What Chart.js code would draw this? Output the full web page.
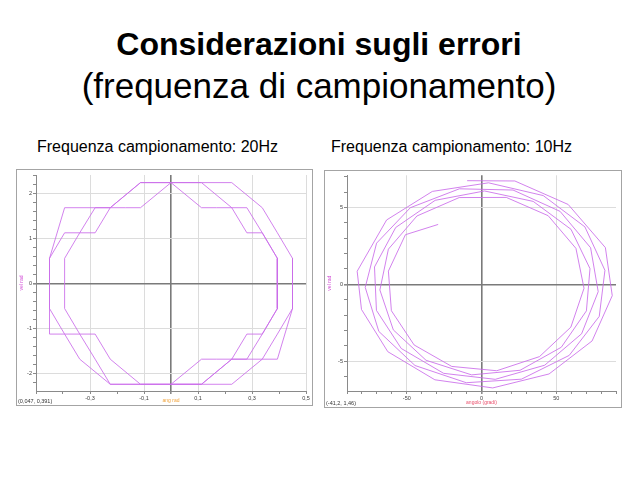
<!DOCTYPE html>
<html lang="it">
<head>
<meta charset="utf-8">
<title>Considerazioni sugli errori</title>
<script src="https://cdn.jsdelivr.net/npm/chart.js@4.4.1/dist/chart.umd.min.js"></script>
<style>
    body { margin: 0; background: #fff; }
    #page { position: relative; width: 638px; height: 478px; overflow: hidden; font-family: 'Liberation Sans', Arial, sans-serif; color: #000; }
    .txt { position: absolute; white-space: nowrap; }
    #title1 { left: 0; width: 638px; text-align: center; top: 28px; font-size: 32px; line-height: 32px; font-weight: bold; }
    #title2 { left: 0; width: 638px; text-align: center; top: 68px; font-size: 35px; line-height: 35px; }
    .sub { top: 139px; font-size: 16px; line-height: 16px; }
    .frame { position: absolute; border: 1px solid #a4a4a4; background: #fff; }
    .frame canvas { display: block; }
</style>
</head>
<body>
<div id="page">
    <div id="title1" class="txt">Considerazioni sugli errori</div>
    <div id="title2" class="txt">(frequenza di campionamento)</div>
    <div class="txt sub" style="left:37px">Frequenza campionamento: 20Hz</div>
    <div class="txt sub" style="left:331px">Frequenza campionamento: 10Hz</div>
    <div class="frame" style="left:16px; top:169px;"><canvas id="chart20" width="295" height="235"></canvas></div>
    <div class="frame" style="left:324px; top:170px;"><canvas id="chart10" width="296" height="236"></canvas></div>
</div>

<script>
// 20Hz sampling: angle (rad) and angular velocity (rad/s)
const angle20 = [
    0.45, 0.45, 0.394, 0.281, 0.225, 0.113, 0,
    -0.113, -0.225, -0.281, -0.338, -0.394, -0.45, -0.45, -0.45,
    -0.45, -0.394, -0.338, -0.281, -0.225, -0.113, 0,
    0.113, 0.225, 0.338, 0.394, 0.45, 0.45,
    0.45, 0.394, 0.338, 0.225, 0.113, 0,
    -0.113, -0.225, -0.338, -0.394, -0.45, -0.45,
    -0.45, -0.394, -0.281, -0.225, -0.113, 0,
    0.113, 0.169, 0.281, 0.338, 0.394, 0.394,
    0.394, 0.338, 0.281, 0.225, 0.113, 0,
    -0.113, -0.225, -0.281, -0.338, -0.394, -0.394,
    -0.394, -0.338, -0.281, -0.169, -0.113, 0,
    0.113, 0.225, 0.281, 0.338, 0.394, 0.394,
    0.394, 0.338, 0.281, 0.169, 0.113, 0
];
const velocity20 = [
    0, -0.56, -1.69, -1.69, -1.69, -2.25, -2.25,
    -2.25, -1.69, -1.13, -1.13, -1.13, -1.13, -0.56, 0,
    0.56, 1.13, 1.13, 1.13, 1.69, 2.25, 2.25,
    2.25, 2.25, 1.69, 1.13, 0.56, 0,
    -0.56, -1.13, -1.69, -2.25, -2.25, -2.25,
    -2.25, -2.25, -1.69, -1.13, -0.56, 0,
    0.56, 1.69, 1.69, 1.69, 2.25, 2.25,
    1.69, 1.69, 1.69, 1.13, 0.56, 0,
    -0.56, -1.13, -1.13, -1.69, -2.25, -2.25,
    -2.25, -2.25, -1.69, -1.13, -0.56, 0,
    0.56, 1.13, 1.69, 1.69, 1.69, 2.25,
    2.25, 1.69, 1.13, 1.13, 0.56, 0,
    -0.56, -1.13, -1.69, -1.69, -1.69, -2.25
];

// 10Hz sampling: angle (degrees) and angular velocity (rad/s)
const angle10 = [
    -9.6, 22.3, 58.0, 82.9, 87.5, 74.0, 45.2, 7.5, -31.2, -62.7, -80.3, -83.2, -63.5, -32.9,
    4.7, 41.3, 69.2, 82.6, 78.8, 58.7, 26.7, -10.2, -44.5, -68.7, -77.8, -70.2, -47.6, -14.8,
    21.1, 52.6, 73.0, 78.1, 67.0, 42.3, 9.2, -25.3, -53.7, -70.3, -71.6, -57.4, -31.0,
    2.0, 34.6, 59.9, 72.6, 70.2, 53.4, 25.8, -6.6, -37.1, -59.0, -68.0, -62.3, -43.2, -14.9,
    16.6, 44.6, 63.2, 68.6, 59.8, 38.8, 10.2, -19.9, -45.1, -60.3, -62.3, -50.9, -29.0
];
const velocity10 = [
    6.75, 6.73, 5.2, 2.39, -0.74, -3.69, -5.84, -6.75, -6.22, -4.39, -1.64, 0.85, 4.19, 6.05,
    6.61, 5.78, 3.74, 0.91, -2.09, -4.63, -6.18, -6.41, -5.29, -3.07, -0.20, 2.68, 4.99, 6.22,
    6.14, 4.75, 2.38, -0.48, -3.22, -5.27, -6.19, -5.80, -4.18, -1.70, 1.13, 3.70, 5.47,
    6.08, 5.40, 3.58, 1.02, -1.73, -4.10, -5.60, -5.90, -4.95, -2.97, -0.37, 2.29, 4.45, 5.65,
    5.66, 4.47, 2.34, -0.26, -2.79, -4.71, -5.63, -5.35, -3.95, -1.72, 0.86, 3.23, 3.90
];

// Tick values that carry a label (the other ticks are minor marks only)
const xLabels20 = [-0.3, -0.1, 0.1, 0.3, 0.5];
const yLabels20 = [-2, -1, 0, 1, 2];
const xLabels10 = [-50, 0, 50];
const yLabels10 = [-5, 0, 5];

const LINE_COLOR = 'rgba(202, 108, 234, 0.85)';

document.addEventListener('DOMContentLoaded', function() {
    createPhaseChart('chart20', {
        angles: angle20,
        velocities: velocity20,
        x: { min: -0.5, max: 0.5, step: 0.1, labels: xLabels20, title: 'ang rad', titleColor: '#f0a23a' },
        y: { min: -2.4, max: 2.42, step: 0.2, labels: yLabels20 },
        axisWidth: 19,
        axisHeight: 14,
        padding: { top: 5, right: 6, left: 0, bottom: 0 },
        readout: '(0,047, 0,391)'
    });

    createPhaseChart('chart10', {
        angles: angle10,
        velocities: velocity10,
        x: { min: -90, max: 90, step: 10, labels: xLabels10, title: 'angolo (gradi)', titleColor: '#ea4f6c' },
        y: { min: -6.95, max: 7.1, step: 1, labels: yLabels10 },
        axisWidth: 22,
        axisHeight: 16,
        padding: { top: 4, right: 5, left: 0, bottom: 0 },
        readout: '(-41,2, 1,46)'
    });
});

// Is the tick value one of the labelled values?
function isLabelled(value, labels) {
    return labels.some(l => Math.abs(l - value) < 1e-6);
}

// Format a number the Italian way (comma decimal)
function formatTick(value, step) {
    const decimals = step < 1 ? 1 : 0;
    const rounded = Number(value.toFixed(decimals));
    return String(rounded === 0 ? 0 : rounded).replace('.', ',');
}

// Build one linear axis
function buildScale(cfg, position, opts) {
    return {
        type: 'linear',
        position: position,
        min: cfg.min,
        max: cfg.max,
        afterFit: function(scale) {
            if (position === 'left') scale.width = opts.axisWidth;
            else scale.height = opts.axisHeight;
        },
        ticks: {
            stepSize: cfg.step,
            includeBounds: false,
            autoSkip: false,
            maxRotation: 0,
            padding: 1,
            color: '#3c3c3c',
            font: { family: 'Liberation Sans, Arial', size: 5.5 },
            callback: function(value) {
                if (!isLabelled(value, cfg.labels)) return '';
                return formatTick(value, cfg.step);
            }
        },
        grid: {
            drawTicks: true,
            tickLength: 3,
            tickColor: '#8a8a8a',
            color: function(ctx) {
                const v = ctx.tick ? ctx.tick.value : NaN;
                if (Math.abs(v) < 1e-6) return '#7a7a7a';
                if (isLabelled(v, cfg.labels)) return '#dcdcdc';
                return 'rgba(0,0,0,0)';
            },
            lineWidth: function(ctx) {
                const v = ctx.tick ? ctx.tick.value : NaN;
                return Math.abs(v) < 1e-6 ? 1.6 : 1;
            }
        },
        border: { display: true, color: '#8a8a8a', width: 1 },
        title: position === 'left'
            ? { display: true, text: 'vel rad', color: '#d24fd6', font: { family: 'Liberation Sans, Arial', size: 5 }, padding: { top: 2, bottom: 0 } }
            : { display: true, text: cfg.title, color: cfg.titleColor, font: { family: 'Liberation Sans, Arial', size: 5 }, padding: { top: 0, bottom: 1 } }
    };
}

// Create a phase-plane chart (angle vs velocity)
function createPhaseChart(canvasId, opts) {
    const points = opts.angles.map((a, i) => ({ x: a, y: opts.velocities[i] }));

    // Cursor readout written in the bottom-left corner
    const readoutPlugin = {
        id: 'readout',
        afterDraw: function(chart) {
            const ctx = chart.ctx;
            ctx.save();
            ctx.font = '5.5px "Liberation Sans", Arial';
            ctx.fillStyle = '#333';
            ctx.textBaseline = 'bottom';
            ctx.textAlign = 'left';
            ctx.fillText(opts.readout, 1, chart.height - 1);
            ctx.restore();
        }
    };

    new Chart(document.getElementById(canvasId).getContext('2d'), {
        type: 'scatter',
        data: {
            datasets: [{
                data: points,
                showLine: true,
                borderColor: LINE_COLOR,
                borderWidth: 1,
                pointRadius: 0,
                tension: 0,
                fill: false
            }]
        },
        options: {
            responsive: false,
            animation: false,
            events: [],
            layout: { padding: opts.padding },
            plugins: {
                legend: { display: false },
                tooltip: { enabled: false }
            },
            scales: {
                x: buildScale(opts.x, 'bottom', opts),
                y: buildScale(opts.y, 'left', opts)
            }
        },
        plugins: [readoutPlugin]
    });
}
</script>
</body>
</html>
